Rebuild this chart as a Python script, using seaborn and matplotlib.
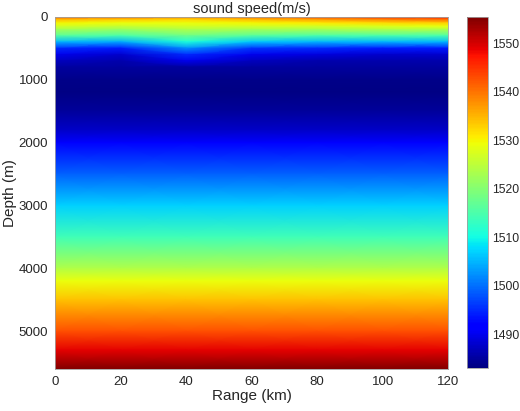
import numpy as np
import seaborn as sns
import matplotlib
matplotlib.use("Agg")
import matplotlib.pyplot as plt

# range stations (km)
ranges_km = [0, 20, 40, 60, 80, 100, 120]

# upper layer depths (m), sound speed varies with range
upper_depths = [0, 50, 100, 150, 200, 300, 400, 500, 600, 700]
upper_speed = {
    0:   [1541, 1534, 1530, 1527, 1523, 1516, 1505, 1495, 1490, 1487],
    20:  [1540, 1533, 1529, 1526, 1522, 1515, 1504, 1494, 1488, 1486],
    40:  [1538, 1532, 1529, 1527, 1524, 1518, 1511, 1502, 1495, 1490],
    60:  [1540, 1534, 1530, 1527, 1523, 1516, 1506, 1496, 1490, 1487],
    80:  [1543, 1536, 1531, 1527, 1523, 1515, 1505, 1495, 1489, 1486],
    100: [1545, 1538, 1532, 1528, 1524, 1515, 1505, 1494, 1488, 1486],
    120: [1546, 1540, 1533, 1529, 1524, 1515, 1505, 1494, 1488, 1486],
}

# deep layer, same at every range
deep_depths = [800, 1000, 1200, 1500, 1800, 2000, 2500, 3000, 3500, 4000,
               4200, 4500, 5000, 5300, 5600]
deep_speed = [1485, 1483.8, 1483.5, 1484.8, 1487.8, 1491, 1499, 1507, 1514,
              1524, 1529, 1534, 1543, 1549, 1555.5]

depths = upper_depths + deep_depths
speed = np.array([upper_speed[r] + deep_speed for r in ranges_km]).T

sns.set_theme(style="white")
plt.rcParams["font.family"] = ["Liberation Sans", "DejaVu Sans"]

fig = plt.figure(figsize=(5.2, 4.11), dpi=100)
ax = fig.add_axes([0.106, 0.102, 0.756, 0.857])
cax = fig.add_axes([0.898, 0.104, 0.041, 0.855])

jet = matplotlib.colormaps["jet"]
mesh = ax.pcolormesh(ranges_km, depths, speed, shading="gouraud", cmap=jet,
                     vmin=1483, vmax=1555.5)
ax.set_xlim(0, 120)
ax.set_ylim(5600, 0)
ax.set_xticks([0, 20, 40, 60, 80, 100, 120])
ax.set_yticks([0, 1000, 2000, 3000, 4000, 5000])
ax.tick_params(labelsize=9.5, direction="in", length=3, pad=5,
               colors="#262626")
ax.set_xlabel("Range (km)", fontsize=11, labelpad=1)
ax.set_ylabel("Depth (m)", fontsize=11, labelpad=1)
ax.set_title("sound speed(m/s)", fontsize=10.5, pad=3)
for s in ax.spines.values():
    s.set_color("#a0a0a0")
    s.set_linewidth(0.6)

cb = fig.colorbar(mesh, cax=cax)
cb.set_ticks([1490, 1500, 1510, 1520, 1530, 1540, 1550])
cb.ax.tick_params(labelsize=8.8, direction="in", length=3, pad=2.5,
                  colors="#262626")
cb.outline.set_edgecolor("#a0a0a0")
cb.outline.set_linewidth(0.6)

fig.savefig("out.png", dpi=100)
